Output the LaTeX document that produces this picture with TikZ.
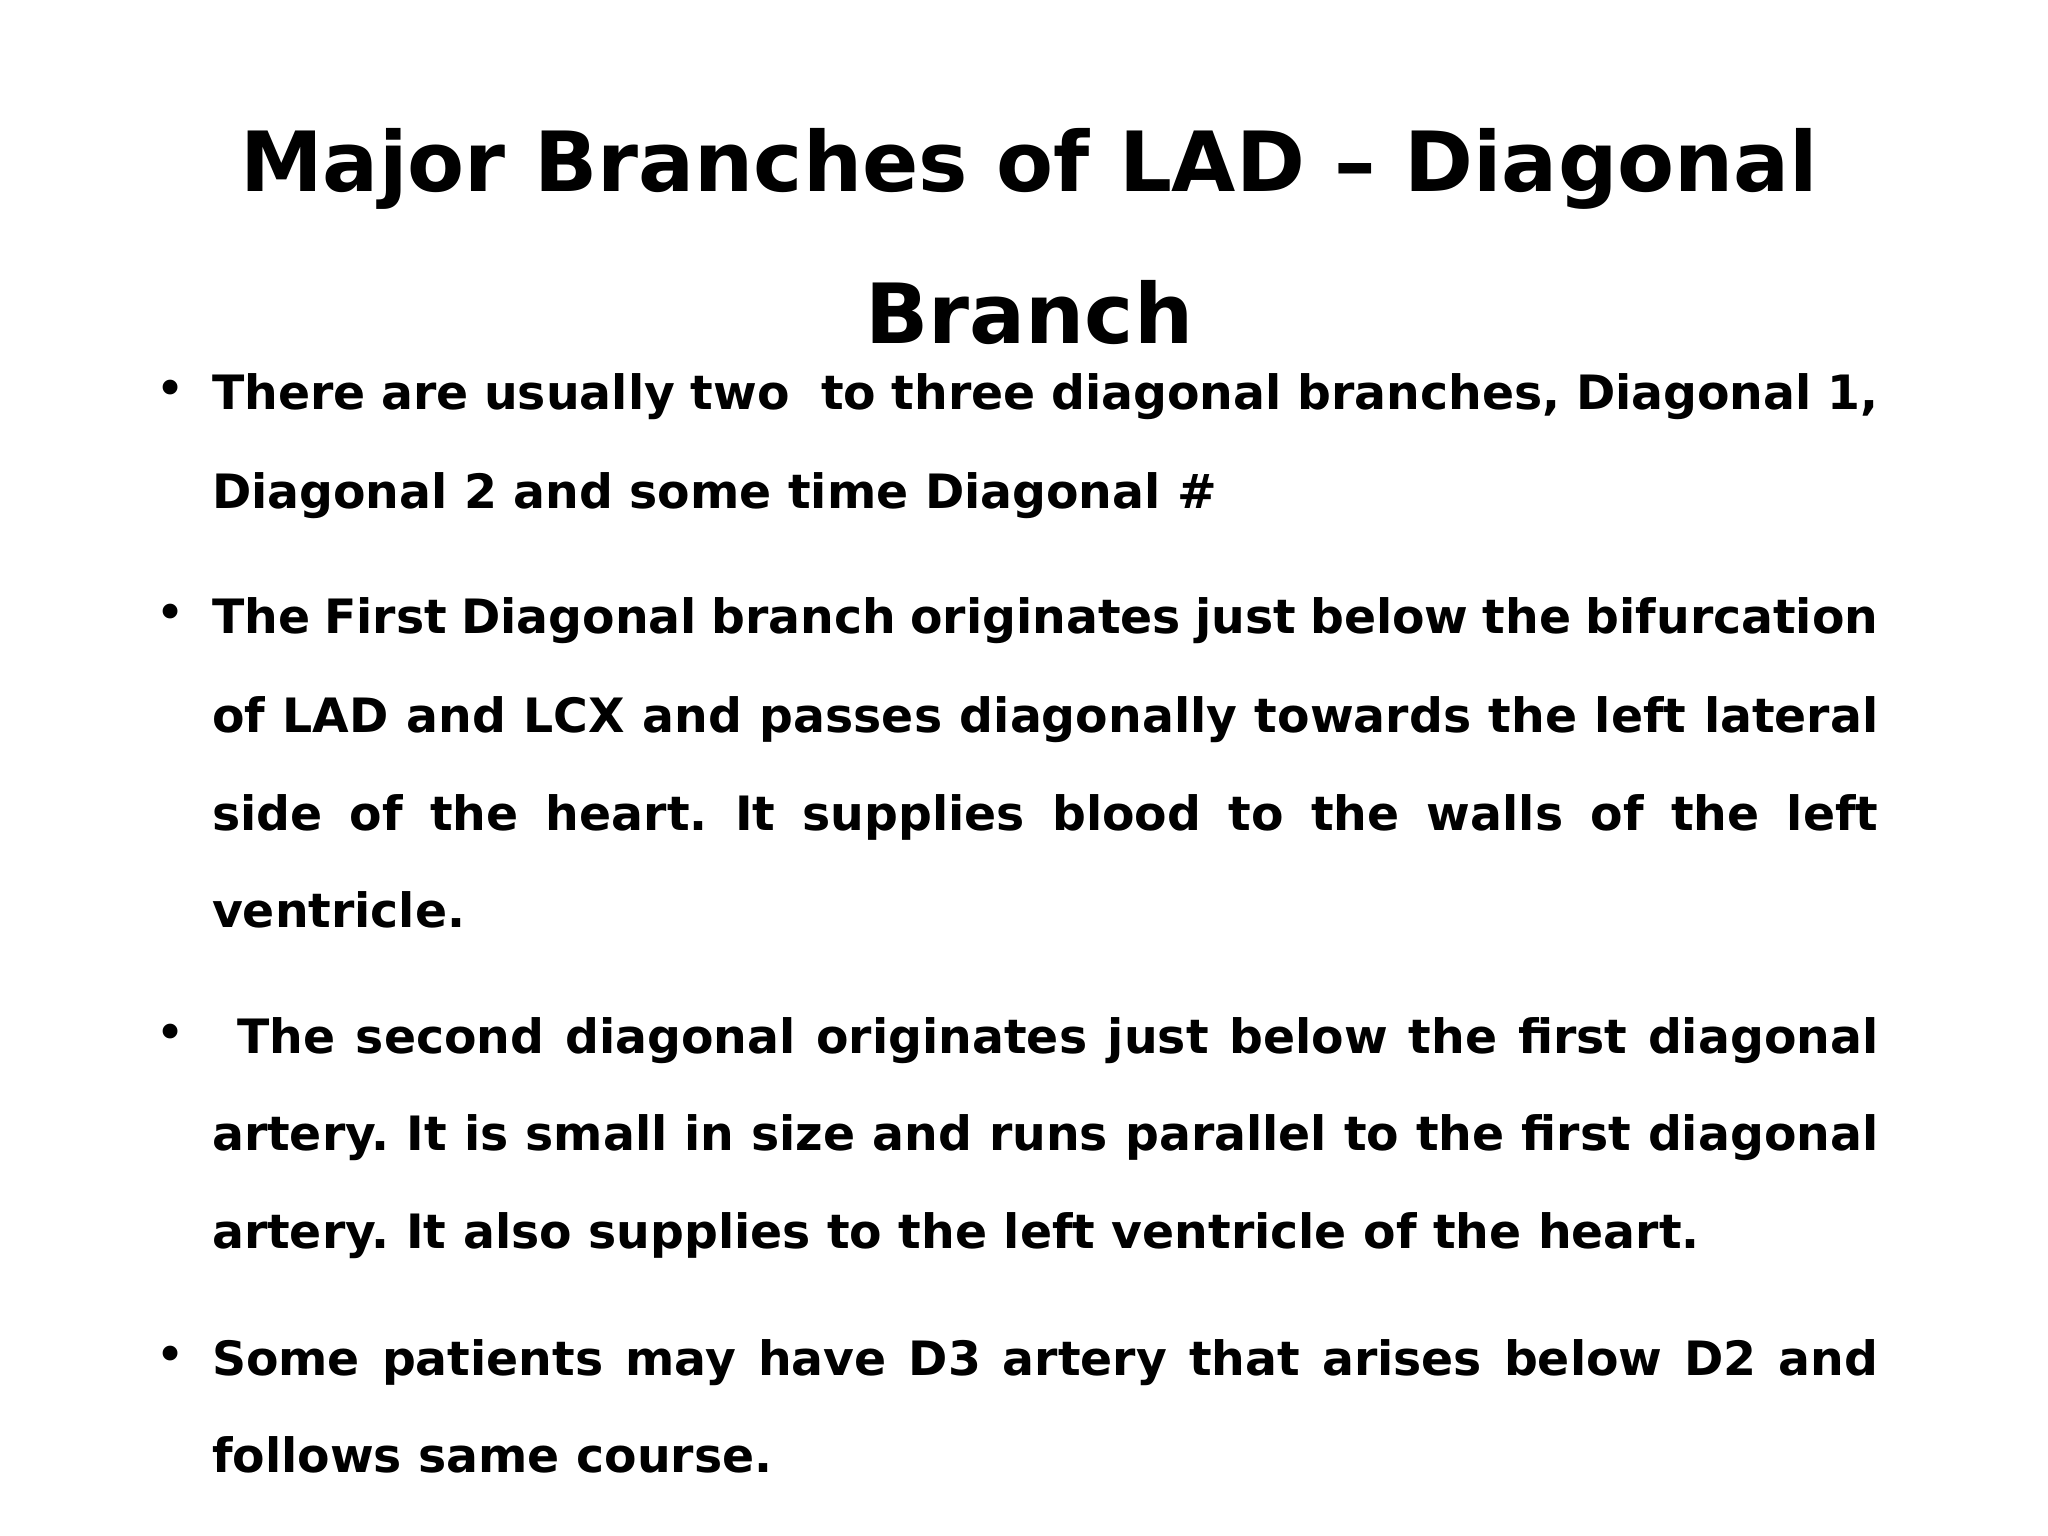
\documentclass[tikz,border=0pt]{standalone}
\usepackage{fontspec}
\setmainfont{DejaVu Sans}
\frenchspacing
\begin{document}
\begin{tikzpicture}[x=0.01cm,y=-0.01cm,
  ttl/.style={anchor=base,inner sep=0,font=\fontsize{17.9}{22}\selectfont\bfseries},
  ln/.style={anchor=base west,inner sep=0,font=\fontsize{10.2}{14}\selectfont\bfseries\frenchspacing},
  bul/.style={anchor=base,inner sep=0,font=\fontsize{11}{14}\selectfont}]
\useasboundingbox[fill=white] (0,0) rectangle (1552,1164);
\node[ttl] (t1) at (780,145) {Major Branches of LAD – Diagonal};
\node[ttl] (t2) at (780,260) {Branch};
\newcommand\J[1]{\makebox[12.62cm][s]{#1}}
\foreach \y in {310,480,798,1042} \node[bul] at (129,\y-2) {•};
\node[ln] (a1) at (160,310) {\J{There are usually two\ \ to three diagonal branches, Diagonal 1,}};
\node[ln] (a2) at (160,385) {Diagonal 2 and some time Diagonal \#};
\node[ln] (b1) at (160,480) {\J{The First Diagonal branch originates just below the bifurcation}};
\node[ln] (b2) at (160,555) {\J{of LAD and LCX and passes diagonally towards the left lateral}};
\node[ln] (b3) at (160,629) {\J{side of the heart. It supplies blood to the walls of the left}};
\node[ln] (b4) at (160,703) {ventricle.};
\node[ln] (c1) at (179,798) {\makebox[12.43cm][s]{The second diagonal originates just below the first diagonal}};
\node[ln] (c2) at (160,872) {\J{artery. It is small in size and runs parallel to the first diagonal}};
\node[ln] (c3) at (160,946) {artery. It also supplies to the left ventricle of the heart.};
\node[ln] (d1) at (160,1042) {\J{Some patients may have D3 artery that arises below D2 and}};
\node[ln] (d2) at (160,1116) {follows same course.};
\end{tikzpicture}
\end{document}
